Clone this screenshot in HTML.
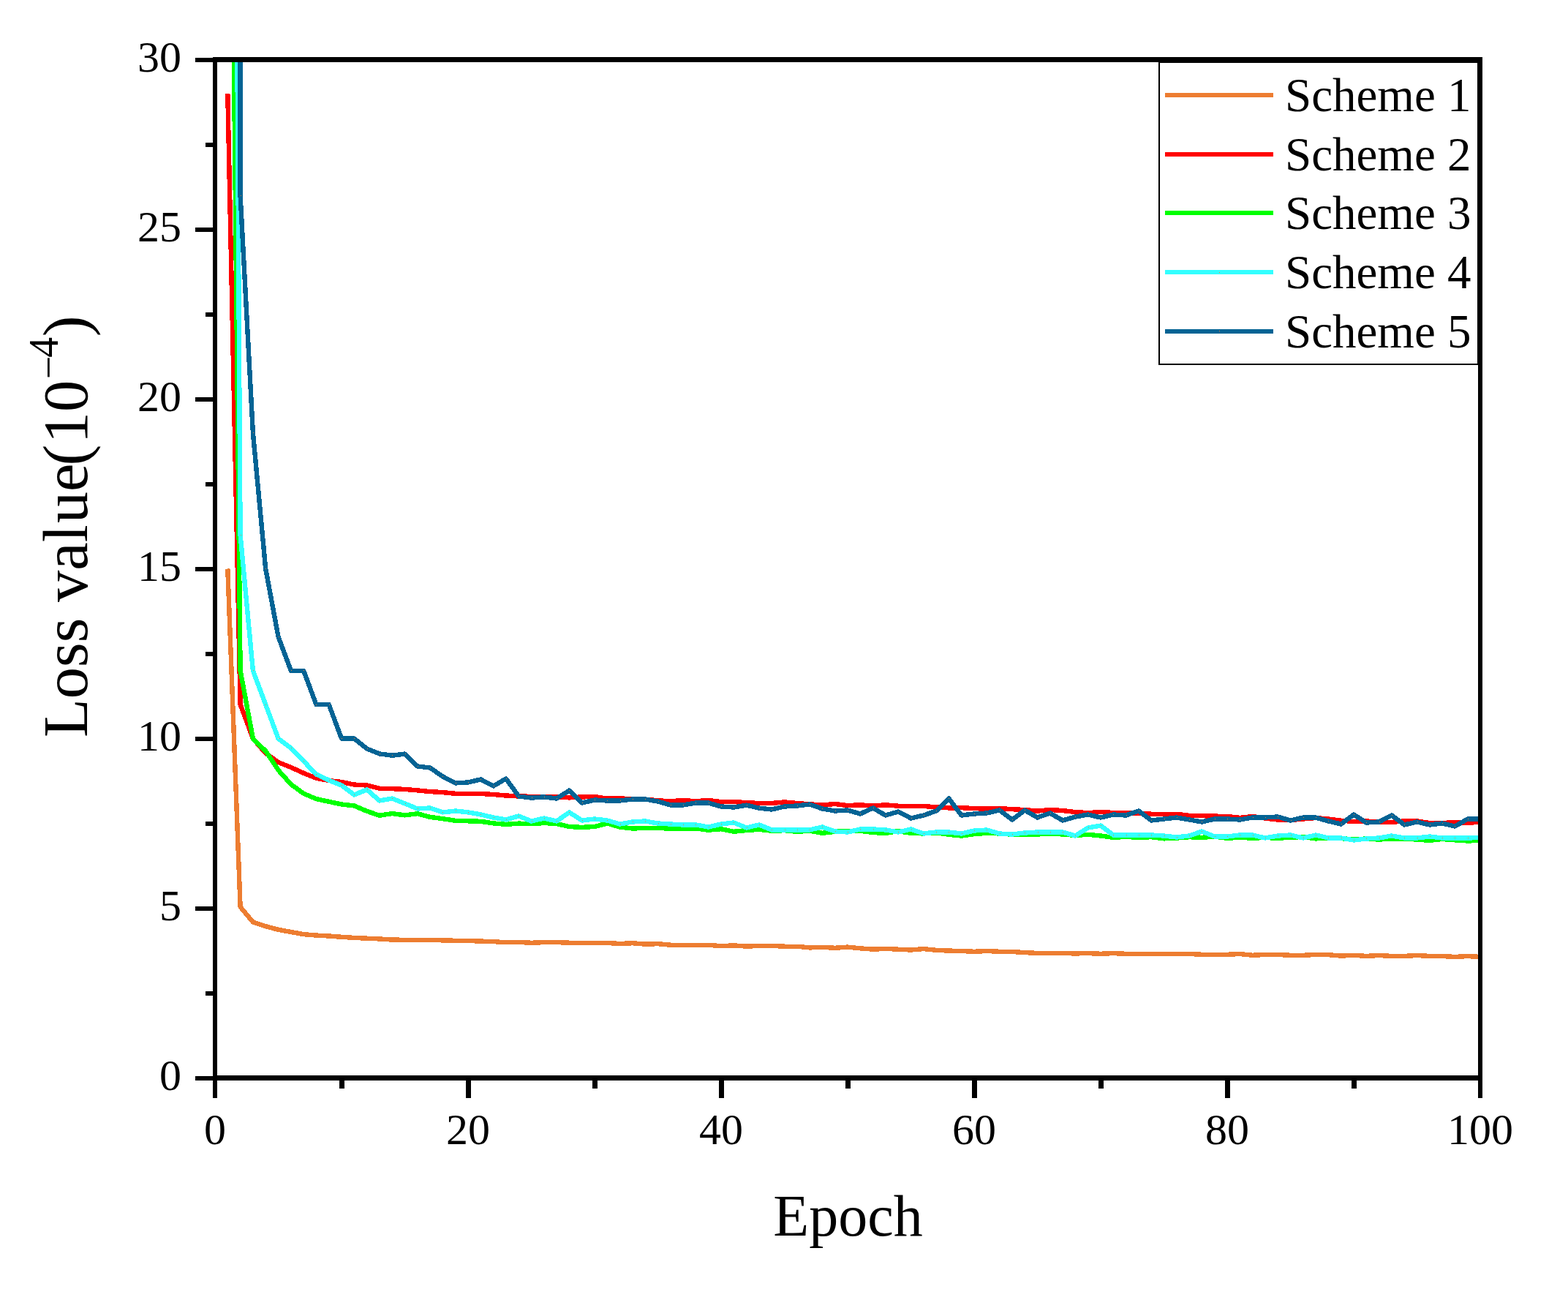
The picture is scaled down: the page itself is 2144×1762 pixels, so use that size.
<!DOCTYPE html>
<html lang="en"><head><meta charset="utf-8"><title>Loss value vs Epoch</title>
<style>
html,body{margin:0;padding:0;background:#fff;}
body{width:2144px;height:1762px;overflow:hidden;}
svg{display:block;}
text{font-family:"Liberation Serif",serif;fill:#000;}
</style></head><body>
<svg width="2144" height="1762" viewBox="0 0 2144 1762">
<rect x="0" y="0" width="2144" height="1762" fill="#ffffff"/>
<defs><clipPath id="plotclip"><rect x="297" y="85" width="1724" height="1385"/></clipPath></defs>
<g clip-path="url(#plotclip)" shape-rendering="crispEdges">
<polyline points="311.3,777.5 328.6,1239.6 345.9,1260.5 363.2,1266.2 380.5,1270.8 397.8,1274.0 415.1,1277.1 432.4,1278.6 449.7,1279.5 467.0,1280.8 484.3,1281.9 501.6,1282.7 518.9,1283.4 536.2,1284.6 553.5,1284.8 570.8,1284.8 588.1,1284.8 605.4,1285.4 622.7,1285.8 640.0,1286.0 657.3,1286.6 674.6,1287.1 691.9,1288.3 709.2,1287.9 726.5,1288.8 743.8,1288.1 761.1,1288.1 778.4,1288.7 795.7,1288.7 813.0,1288.7 830.3,1289.0 847.6,1290.0 864.9,1289.2 882.2,1290.6 899.5,1290.2 916.8,1291.7 934.1,1291.7 951.4,1292.1 968.7,1291.7 986.0,1293.3 1003.3,1292.3 1020.6,1293.7 1037.9,1292.9 1055.2,1292.9 1072.5,1293.7 1089.8,1293.7 1107.1,1295.4 1124.4,1294.8 1141.7,1295.8 1159.0,1294.6 1176.3,1296.3 1193.6,1297.7 1210.9,1296.9 1228.2,1297.7 1245.5,1298.5 1262.8,1297.1 1280.1,1298.8 1297.4,1299.6 1314.7,1300.0 1332.0,1300.8 1349.3,1300.0 1366.6,1300.8 1383.9,1301.0 1401.2,1302.1 1418.5,1302.9 1435.8,1303.1 1453.1,1303.1 1470.4,1303.4 1487.7,1303.1 1505.0,1303.8 1522.3,1303.1 1539.6,1303.8 1556.9,1303.8 1574.2,1303.8 1591.5,1303.8 1608.8,1304.0 1626.1,1304.0 1643.4,1304.8 1660.7,1304.8 1678.0,1304.8 1695.3,1304.0 1712.6,1305.8 1729.9,1305.0 1747.2,1305.0 1764.5,1305.8 1781.8,1305.8 1799.1,1305.0 1816.4,1305.2 1833.7,1306.6 1851.0,1305.8 1868.3,1306.9 1885.6,1306.0 1902.9,1306.9 1920.2,1306.9 1937.5,1306.0 1954.8,1306.9 1972.1,1307.1 1989.4,1307.9 2006.7,1307.1 2024.0,1307.9" fill="none" stroke="#ED7D31" stroke-width="6.4" stroke-linejoin="round" stroke-linecap="butt"/>
<polyline points="311.3,127.9 328.6,963.1 345.9,1009.5 363.2,1029.5 380.5,1042.0 397.8,1048.9 415.1,1056.8 432.4,1063.8 449.7,1067.0 467.0,1068.9 484.3,1072.6 501.6,1073.5 518.9,1077.7 536.2,1078.2 553.5,1078.9 570.8,1080.4 588.1,1082.1 605.4,1083.1 622.7,1084.8 640.0,1085.3 657.3,1085.0 674.6,1086.0 691.9,1087.5 709.2,1088.5 726.5,1088.8 743.8,1088.8 761.1,1089.4 778.4,1090.4 795.7,1089.4 813.0,1089.0 830.3,1091.7 847.6,1091.1 864.9,1092.9 882.2,1092.6 899.5,1094.3 916.8,1095.2 934.1,1094.0 951.4,1095.2 968.7,1094.0 986.0,1096.1 1003.3,1096.1 1020.6,1097.1 1037.9,1098.0 1055.2,1098.0 1072.5,1096.4 1089.8,1098.0 1107.1,1099.3 1124.4,1100.5 1141.7,1099.0 1159.0,1101.1 1176.3,1100.3 1193.6,1101.5 1210.9,1100.3 1228.2,1101.7 1245.5,1102.0 1262.8,1102.0 1280.1,1103.3 1297.4,1104.4 1314.7,1104.2 1332.0,1105.1 1349.3,1105.7 1366.6,1104.9 1383.9,1106.2 1401.2,1107.0 1418.5,1108.6 1435.8,1107.0 1453.1,1108.0 1470.4,1110.1 1487.7,1111.1 1505.0,1110.1 1522.3,1110.9 1539.6,1111.5 1556.9,1111.6 1574.2,1112.7 1591.5,1112.7 1608.8,1112.7 1626.1,1114.9 1643.4,1115.2 1660.7,1115.6 1678.0,1116.0 1695.3,1117.9 1712.6,1116.0 1729.9,1118.6 1747.2,1120.5 1764.5,1121.0 1781.8,1119.5 1799.1,1118.0 1816.4,1119.5 1833.7,1121.7 1851.0,1123.0 1868.3,1122.4 1885.6,1123.9 1902.9,1123.9 1920.2,1122.4 1937.5,1122.4 1954.8,1125.0 1972.1,1125.0 1989.4,1124.1 2006.7,1124.6 2024.0,1124.0" fill="none" stroke="#FF0000" stroke-width="6.4" stroke-linejoin="round" stroke-linecap="butt"/>
<polyline points="311.3,-730.5 328.6,916.7 345.9,1009.5 363.2,1026.7 380.5,1052.7 397.8,1072.1 415.1,1084.7 432.4,1092.1 449.7,1095.8 467.0,1099.5 484.3,1101.4 501.6,1108.8 518.9,1114.8 536.2,1112.0 553.5,1114.4 570.8,1112.2 588.1,1116.9 605.4,1119.1 622.7,1121.9 640.0,1122.3 657.3,1122.8 674.6,1125.4 691.9,1126.9 709.2,1125.6 726.5,1126.2 743.8,1125.0 761.1,1126.0 778.4,1130.0 795.7,1130.9 813.0,1130.0 830.3,1125.5 847.6,1130.6 864.9,1132.5 882.2,1132.0 899.5,1132.0 916.8,1132.6 934.1,1132.5 951.4,1132.5 968.7,1134.7 986.0,1133.2 1003.3,1136.8 1020.6,1135.0 1037.9,1133.8 1055.2,1135.8 1072.5,1135.2 1089.8,1136.8 1107.1,1135.8 1124.4,1138.8 1141.7,1136.9 1159.0,1135.7 1176.3,1135.8 1193.6,1138.0 1210.9,1138.9 1228.2,1136.1 1245.5,1138.9 1262.8,1139.4 1280.1,1138.3 1297.4,1140.8 1314.7,1142.6 1332.0,1140.1 1349.3,1138.9 1366.6,1139.4 1383.9,1140.8 1401.2,1140.8 1418.5,1140.5 1435.8,1139.5 1453.1,1140.5 1470.4,1141.9 1487.7,1140.8 1505.0,1142.5 1522.3,1144.8 1539.6,1143.9 1556.9,1144.8 1574.2,1144.2 1591.5,1146.4 1608.8,1145.5 1626.1,1144.2 1643.4,1144.8 1660.7,1143.7 1678.0,1145.7 1695.3,1144.8 1712.6,1145.7 1729.9,1145.0 1747.2,1145.7 1764.5,1144.8 1781.8,1144.0 1799.1,1146.4 1816.4,1145.5 1833.7,1146.1 1851.0,1147.4 1868.3,1146.5 1885.6,1147.6 1902.9,1146.4 1920.2,1146.4 1937.5,1147.6 1954.8,1148.9 1972.1,1147.0 1989.4,1148.3 2006.7,1149.5 2024.0,1148.9" fill="none" stroke="#00FF00" stroke-width="6.4" stroke-linejoin="round" stroke-linecap="butt"/>
<polyline points="311.3,-1960.1 328.6,731.1 345.9,916.7 363.2,963.1 380.5,1009.5 397.8,1022.5 415.1,1040.4 432.4,1058.4 449.7,1066.6 467.0,1073.5 484.3,1086.5 501.6,1079.4 518.9,1094.5 536.2,1091.5 553.5,1098.4 570.8,1105.5 588.1,1104.5 605.4,1110.4 622.7,1108.5 640.0,1110.4 657.3,1113.4 674.6,1117.5 691.9,1120.4 709.2,1115.5 726.5,1122.5 743.8,1118.5 761.1,1122.5 778.4,1110.4 795.7,1121.5 813.0,1119.5 830.3,1121.5 847.6,1126.5 864.9,1123.5 882.2,1122.5 899.5,1125.5 916.8,1126.5 934.1,1127.5 951.4,1127.5 968.7,1130.5 986.0,1126.5 1003.3,1124.5 1020.6,1131.5 1037.9,1127.5 1055.2,1134.4 1072.5,1134.4 1089.8,1134.4 1107.1,1134.4 1124.4,1130.5 1141.7,1136.5 1159.0,1137.5 1176.3,1133.5 1193.6,1133.5 1210.9,1134.4 1228.2,1137.5 1245.5,1133.5 1262.8,1139.5 1280.1,1137.5 1297.4,1137.5 1314.7,1139.5 1332.0,1135.5 1349.3,1134.5 1366.6,1139.5 1383.9,1140.5 1401.2,1138.5 1418.5,1137.5 1435.8,1137.5 1453.1,1137.5 1470.4,1142.5 1487.7,1131.5 1505.0,1128.5 1522.3,1141.5 1539.6,1141.5 1556.9,1141.5 1574.2,1141.5 1591.5,1142.5 1608.8,1144.5 1626.1,1142.5 1643.4,1136.5 1660.7,1143.5 1678.0,1143.5 1695.3,1141.5 1712.6,1141.5 1729.9,1145.5 1747.2,1142.5 1764.5,1141.5 1781.8,1145.5 1799.1,1141.5 1816.4,1145.5 1833.7,1145.5 1851.0,1148.5 1868.3,1146.5 1885.6,1145.5 1902.9,1142.5 1920.2,1145.5 1937.5,1145.5 1954.8,1143.5 1972.1,1145.5 1989.4,1145.5 2006.7,1145.5 2024.0,1145.0" fill="none" stroke="#33FFFF" stroke-width="6.4" stroke-linejoin="round" stroke-linecap="butt"/>
<polyline points="311.3,-17086.5 328.6,267.1 345.9,591.9 363.2,777.5 380.5,870.3 397.8,916.7 415.1,916.7 432.4,963.1 449.7,963.1 467.0,1009.5 484.3,1009.5 501.6,1023.4 518.9,1030.4 536.2,1032.7 553.5,1030.6 570.8,1047.5 588.1,1049.5 605.4,1061.5 622.7,1070.4 640.0,1069.5 657.3,1065.4 674.6,1074.5 691.9,1064.4 709.2,1088.5 726.5,1090.6 743.8,1089.4 761.1,1091.5 778.4,1080.6 795.7,1097.5 813.0,1093.5 830.3,1094.5 847.6,1094.5 864.9,1092.5 882.2,1092.5 899.5,1095.5 916.8,1100.4 934.1,1100.4 951.4,1097.5 968.7,1097.5 986.0,1102.5 1003.3,1103.5 1020.6,1100.6 1037.9,1104.6 1055.2,1106.5 1072.5,1102.5 1089.8,1101.5 1107.1,1099.5 1124.4,1105.5 1141.7,1108.5 1159.0,1107.5 1176.3,1112.5 1193.6,1104.5 1210.9,1114.5 1228.2,1109.5 1245.5,1118.5 1262.8,1114.5 1280.1,1108.5 1297.4,1091.5 1314.7,1114.5 1332.0,1112.5 1349.3,1111.5 1366.6,1107.5 1383.9,1120.5 1401.2,1107.5 1418.5,1117.5 1435.8,1111.5 1453.1,1121.5 1470.4,1116.5 1487.7,1113.5 1505.0,1117.5 1522.3,1113.5 1539.6,1114.5 1556.9,1108.5 1574.2,1121.5 1591.5,1119.5 1608.8,1117.5 1626.1,1120.5 1643.4,1123.5 1660.7,1119.5 1678.0,1119.5 1695.3,1120.5 1712.6,1117.5 1729.9,1117.5 1747.2,1116.5 1764.5,1121.5 1781.8,1117.5 1799.1,1117.5 1816.4,1122.5 1833.7,1126.5 1851.0,1113.5 1868.3,1124.5 1885.6,1123.5 1902.9,1114.5 1920.2,1127.5 1937.5,1123.5 1954.8,1127.5 1972.1,1125.5 1989.4,1129.5 2006.7,1119.5 2024.0,1119.7" fill="none" stroke="#036394" stroke-width="6.4" stroke-linejoin="round" stroke-linecap="butt"/>
</g>
<g clip-path="url(#plotclip)" shape-rendering="crispEdges" fill="#ED7D31">
<path d="M329 731h1v1h-1zM346 916h1v1h-1zM363 963h1v1h-1zM381 1009h1v1h-1zM398 1022h1v1h-1zM415 1040h1v1h-1zM432 1058h1v1h-1zM450 1066h1v1h-1zM467 1073h1v1h-1zM484 1086h1v1h-1zM502 1079h1v1h-1zM519 1094h1v1h-1zM536 1091h1v1h-1zM554 1098h1v1h-1zM571 1105h1v1h-1zM588 1104h1v1h-1zM605 1110h1v1h-1zM623 1108h1v1h-1zM640 1110h1v1h-1zM657 1113h1v1h-1zM675 1117h1v1h-1zM692 1120h1v1h-1zM709 1115h1v1h-1zM727 1122h1v1h-1zM744 1118h1v1h-1zM761 1122h1v1h-1zM778 1110h1v1h-1zM796 1121h1v1h-1zM813 1119h1v1h-1zM830 1121h1v1h-1zM848 1126h1v1h-1zM865 1123h1v1h-1zM882 1122h1v1h-1zM900 1125h1v1h-1zM917 1126h1v1h-1zM934 1127h1v1h-1zM951 1127h1v1h-1zM969 1130h1v1h-1zM986 1126h1v1h-1zM1003 1124h1v1h-1zM1021 1131h1v1h-1zM1038 1127h1v1h-1zM1055 1134h1v1h-1zM1073 1134h1v1h-1zM1090 1134h1v1h-1zM1107 1134h1v1h-1zM1124 1130h1v1h-1zM1142 1136h1v1h-1zM1159 1137h1v1h-1zM1176 1133h1v1h-1zM1194 1133h1v1h-1zM1211 1134h1v1h-1zM1228 1137h1v1h-1zM1246 1133h1v1h-1zM1263 1139h1v1h-1zM1280 1137h1v1h-1zM1297 1137h1v1h-1zM1315 1139h1v1h-1zM1332 1135h1v1h-1zM1349 1134h1v1h-1zM1367 1139h1v1h-1zM1384 1140h1v1h-1zM1401 1138h1v1h-1zM1419 1137h1v1h-1zM1436 1137h1v1h-1zM1453 1137h1v1h-1zM1470 1142h1v1h-1zM1488 1131h1v1h-1zM1505 1128h1v1h-1zM1522 1141h1v1h-1zM1540 1141h1v1h-1zM1557 1141h1v1h-1zM1574 1141h1v1h-1zM1592 1142h1v1h-1zM1609 1144h1v1h-1zM1626 1142h1v1h-1zM1643 1136h1v1h-1zM1661 1143h1v1h-1zM1678 1143h1v1h-1zM1695 1141h1v1h-1zM1713 1141h1v1h-1zM1730 1145h1v1h-1zM1747 1142h1v1h-1zM1765 1141h1v1h-1zM1782 1145h1v1h-1zM1799 1141h1v1h-1zM1816 1145h1v1h-1zM1834 1145h1v1h-1zM1851 1148h1v1h-1zM1868 1146h1v1h-1zM1886 1145h1v1h-1zM1903 1142h1v1h-1zM1920 1145h1v1h-1zM1938 1145h1v1h-1zM1955 1143h1v1h-1zM1972 1145h1v1h-1zM1989 1145h1v1h-1zM2007 1145h1v1h-1zM2024 1144h1v1h-1zM329 267h1v1h-1zM346 591h1v1h-1zM363 777h1v1h-1zM381 870h1v1h-1zM398 916h1v1h-1zM415 916h1v1h-1zM432 963h1v1h-1zM450 963h1v1h-1zM467 1009h1v1h-1zM484 1009h1v1h-1zM502 1023h1v1h-1zM519 1030h1v1h-1zM536 1032h1v1h-1zM554 1030h1v1h-1zM571 1047h1v1h-1zM588 1049h1v1h-1zM605 1061h1v1h-1zM623 1070h1v1h-1zM640 1069h1v1h-1zM657 1065h1v1h-1zM675 1074h1v1h-1zM692 1064h1v1h-1zM709 1088h1v1h-1zM727 1090h1v1h-1zM744 1089h1v1h-1zM761 1091h1v1h-1zM778 1080h1v1h-1zM796 1097h1v1h-1zM813 1093h1v1h-1zM830 1094h1v1h-1zM848 1094h1v1h-1zM865 1092h1v1h-1zM882 1092h1v1h-1zM900 1095h1v1h-1zM917 1100h1v1h-1zM934 1100h1v1h-1zM951 1097h1v1h-1zM969 1097h1v1h-1zM986 1102h1v1h-1zM1003 1103h1v1h-1zM1021 1100h1v1h-1zM1038 1104h1v1h-1zM1055 1106h1v1h-1zM1073 1102h1v1h-1zM1090 1101h1v1h-1zM1107 1099h1v1h-1zM1124 1105h1v1h-1zM1142 1108h1v1h-1zM1159 1107h1v1h-1zM1176 1112h1v1h-1zM1194 1104h1v1h-1zM1211 1114h1v1h-1zM1228 1109h1v1h-1zM1246 1118h1v1h-1zM1263 1114h1v1h-1zM1280 1108h1v1h-1zM1297 1091h1v1h-1zM1315 1114h1v1h-1zM1332 1112h1v1h-1zM1349 1111h1v1h-1zM1367 1107h1v1h-1zM1384 1120h1v1h-1zM1401 1107h1v1h-1zM1419 1117h1v1h-1zM1436 1111h1v1h-1zM1453 1121h1v1h-1zM1470 1116h1v1h-1zM1488 1113h1v1h-1zM1505 1117h1v1h-1zM1522 1113h1v1h-1zM1540 1114h1v1h-1zM1557 1108h1v1h-1zM1574 1121h1v1h-1zM1592 1119h1v1h-1zM1609 1117h1v1h-1zM1626 1120h1v1h-1zM1643 1123h1v1h-1zM1661 1119h1v1h-1zM1678 1119h1v1h-1zM1695 1120h1v1h-1zM1713 1117h1v1h-1zM1730 1117h1v1h-1zM1747 1116h1v1h-1zM1765 1121h1v1h-1zM1782 1117h1v1h-1zM1799 1117h1v1h-1zM1816 1122h1v1h-1zM1834 1126h1v1h-1zM1851 1113h1v1h-1zM1868 1124h1v1h-1zM1886 1123h1v1h-1zM1903 1114h1v1h-1zM1920 1127h1v1h-1zM1938 1123h1v1h-1zM1955 1127h1v1h-1zM1972 1125h1v1h-1zM1989 1129h1v1h-1zM2007 1119h1v1h-1zM2024 1119h1v1h-1z"/>
</g>
<g shape-rendering="crispEdges">
<rect x="1584" y="84" width="438" height="415" fill="#000"/>
<rect x="1586" y="86" width="434" height="411" fill="#fff"/>
<rect x="1593" y="127" width="148" height="6" fill="#ED7D31"/>
<rect x="1593" y="208" width="148" height="6" fill="#FF0000"/>
<rect x="1593" y="288" width="148" height="6" fill="#00FF00"/>
<rect x="1593" y="369" width="148" height="6" fill="#33FFFF"/>
<rect x="1593" y="450" width="148" height="6" fill="#036394"/>
<rect x="1667" y="372" width="1" height="1" fill="#ED7D31"/>
<rect x="1667" y="452" width="1" height="1" fill="#ED7D31"/>
</g>
<g font-size="65">
<text x="1757" y="152.0">Scheme 1</text>
<text x="1757" y="233.0">Scheme 2</text>
<text x="1757" y="313.0">Scheme 3</text>
<text x="1757" y="394.0">Scheme 4</text>
<text x="1757" y="474.5">Scheme 5</text>
</g>
<g fill="#000" shape-rendering="crispEdges">
<rect x="291" y="78" width="1736" height="7"/>
<rect x="291" y="1470" width="1736" height="7"/>
<rect x="291" y="78" width="6" height="1399"/>
<rect x="2021" y="78" width="6" height="1399"/>
<rect x="267" y="1471" width="24" height="6"/>
<rect x="281" y="1355" width="10" height="6"/>
<rect x="267" y="1239" width="24" height="6"/>
<rect x="281" y="1123" width="10" height="6"/>
<rect x="267" y="1007" width="24" height="6"/>
<rect x="281" y="891" width="10" height="6"/>
<rect x="267" y="775" width="24" height="6"/>
<rect x="281" y="659" width="10" height="6"/>
<rect x="267" y="543" width="24" height="6"/>
<rect x="281" y="427" width="10" height="6"/>
<rect x="267" y="311" width="24" height="6"/>
<rect x="281" y="195" width="10" height="6"/>
<rect x="267" y="79" width="24" height="6"/>
<rect x="291" y="1477" width="6" height="24"/>
<rect x="464" y="1477" width="7" height="11"/>
<rect x="637" y="1477" width="7" height="24"/>
<rect x="810" y="1477" width="7" height="11"/>
<rect x="983" y="1477" width="7" height="24"/>
<rect x="1156" y="1477" width="7" height="11"/>
<rect x="1329" y="1477" width="7" height="24"/>
<rect x="1502" y="1477" width="7" height="11"/>
<rect x="1675" y="1477" width="7" height="24"/>
<rect x="1848" y="1477" width="7" height="11"/>
<rect x="2021" y="1477" width="6" height="24"/>
</g>
<g font-size="60" text-anchor="end">
<text x="248" y="1489.5">0</text>
<text x="248" y="1257.5">5</text>
<text x="248" y="1025.5">10</text>
<text x="248" y="793.5">15</text>
<text x="248" y="561.5">20</text>
<text x="248" y="329.5">25</text>
<text x="248" y="97.5">30</text>
</g>
<g font-size="60" text-anchor="middle">
<text x="294.0" y="1563.6">0</text>
<text x="640.0" y="1563.6">20</text>
<text x="986.0" y="1563.6">40</text>
<text x="1332.0" y="1563.6">60</text>
<text x="1678.0" y="1563.6">80</text>
<text x="2024.0" y="1563.6">100</text>
</g>
<text x="1159.5" y="1689" font-size="80" text-anchor="middle">Epoch</text>
<text transform="translate(119.2,1008) rotate(-90)" font-size="86.5" dx="0 0 0 0 0 0 0 0 2 0 -3 1.5 0">Loss value(10<tspan font-size="56" dx="1.5 -2" dy="-34.4 -5.6">−4</tspan><tspan dx="0.5" dy="40">)</tspan></text>
</svg>
</body></html>
